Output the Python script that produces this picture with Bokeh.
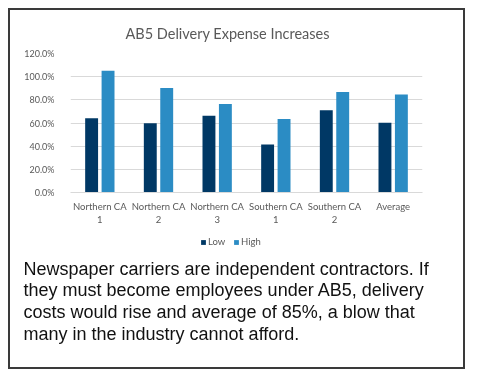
from bokeh.plotting import figure
from bokeh.models import (ColumnDataSource, FixedTicker, NumeralTickFormatter, Legend,
                          LegendItem, Title, Range1d)
from bokeh.core.properties import value
from bokeh.transform import dodge
from bokeh.embed import file_html
from bokeh.resources import INLINE

categories = ["Northern CA\n1", "Northern CA\n2", "Northern CA\n3",
              "Southern CA\n1", "Southern CA\n2", "Average"]
series = ["Low", "High"]
low = [0.64, 0.597, 0.663, 0.414, 0.709, 0.603]
high = [1.052, 0.903, 0.765, 0.634, 0.868, 0.846]
y_ticks = [0.0, 0.2, 0.4, 0.6, 0.8, 1.0, 1.2]
title_text = "AB5 Delivery Expense Increases"
paragraph = ["Newspaper carriers are independent contractors. If",
             "they must become employees under AB5, delivery",
             "costs would rise and average of 85%, a blow that",
             "many in the industry cannot afford."]

W = 457
LOW_C = "#003865"
HIGH_C = "#2b8cc4"
BORDER = "2px solid #3a3a3a"

xs = [i + 0.5 for i in range(len(categories))]
src = ColumnDataSource(dict(x=xs, low=low, high=high))

# ---- chart
p = figure(width=W, height=220, output_backend="svg", toolbar_location=None,
           x_range=Range1d(0, len(categories)), y_range=Range1d(0, 1.2),
           min_border_left=60, min_border_right=45, min_border_top=42,
           min_border_bottom=38)
p.outline_line_color = None
p.styles = {"position": "fixed", "left": "8px", "top": "8px",
            "border-left": BORDER, "border-right": BORDER, "border-top": BORDER}

p.vbar(x=dodge("x", -0.14), top="low", width=0.22, source=src,
       fill_color=LOW_C, line_color=None)
p.vbar(x=dodge("x", 0.14), top="high", width=0.22, source=src,
       fill_color=HIGH_C, line_color=None)

p.xaxis.ticker = FixedTicker(ticks=xs)
p.xaxis.major_label_overrides = {x: c for x, c in zip(xs, categories)}
p.xaxis.major_tick_line_color = None
p.xaxis.minor_tick_line_color = None
p.xaxis.axis_line_color = "#d9d9d9"
p.xaxis.major_label_text_font = "Lato"
p.xaxis.major_label_text_font_size = "9.5px"
p.xaxis.major_label_text_color = "#595959"
p.xaxis.major_label_standoff = 2
p.xgrid.grid_line_color = None

p.yaxis.ticker = FixedTicker(ticks=y_ticks)
p.yaxis.formatter = NumeralTickFormatter(format="0.0%")
p.yaxis.major_tick_line_color = None
p.yaxis.minor_tick_line_color = None
p.yaxis.axis_line_color = None
p.yaxis.major_label_text_font = "Lato"
p.yaxis.major_label_text_font_size = "9px"
p.yaxis.major_label_text_color = "#595959"
p.yaxis.major_label_standoff = 10
p.ygrid.grid_line_color = "#d9d9d9"

p.add_layout(Title(text=title_text, text_font="Lato", text_font_size="14.5px",
                   text_color="#595959", text_font_style="normal",
                   align="left", offset=55, standoff=24), "above")

# ---- legend + paragraph panel
TH = 143
q = figure(width=W, height=TH, output_backend="svg", toolbar_location=None,
           x_range=Range1d(0, W), y_range=Range1d(TH, 0),
           min_border=0, x_axis_type=None, y_axis_type=None)
q.outline_line_color = None
q.xgrid.grid_line_color = None
q.ygrid.grid_line_color = None
q.styles = {"position": "fixed", "left": "8px", "top": "226px",
            "border-left": BORDER, "border-right": BORDER, "border-bottom": BORDER}

# legend swatches (zero-size bars, only their legend glyphs are seen)
sw_src = ColumnDataSource(dict(x=[0], top=[0]))
sw_low = q.vbar(x="x", top="top", width=0, source=sw_src, fill_color=LOW_C, line_color=None)
sw_high = q.vbar(x="x", top="top", width=0, source=sw_src, fill_color=HIGH_C, line_color=None)
legend = Legend(items=[LegendItem(label=series[0], renderers=[sw_low]),
                       LegendItem(label=series[1], renderers=[sw_high])],
                orientation="horizontal", location=(190, 122),
                glyph_width=6, glyph_height=6, label_height=11,
                label_text_font="Lato", label_text_font_size="9.5px",
                label_text_color="#595959", label_standoff=2, spacing=5,
                padding=0, margin=0, border_line_color=None,
                background_fill_alpha=0)
q.add_layout(legend, "center")

tsrc = ColumnDataSource(dict(x=[13] * len(paragraph),
                             y=[42 + 21.7 * i for i in range(len(paragraph))],
                             text=paragraph))
q.text(x="x", y="y", text="text", source=tsrc, text_font=value("Liberation Sans"),
       text_font_size="18px", text_color="#111111", text_baseline="middle")

open("out.html", "w").write(file_html([p, q], INLINE))
